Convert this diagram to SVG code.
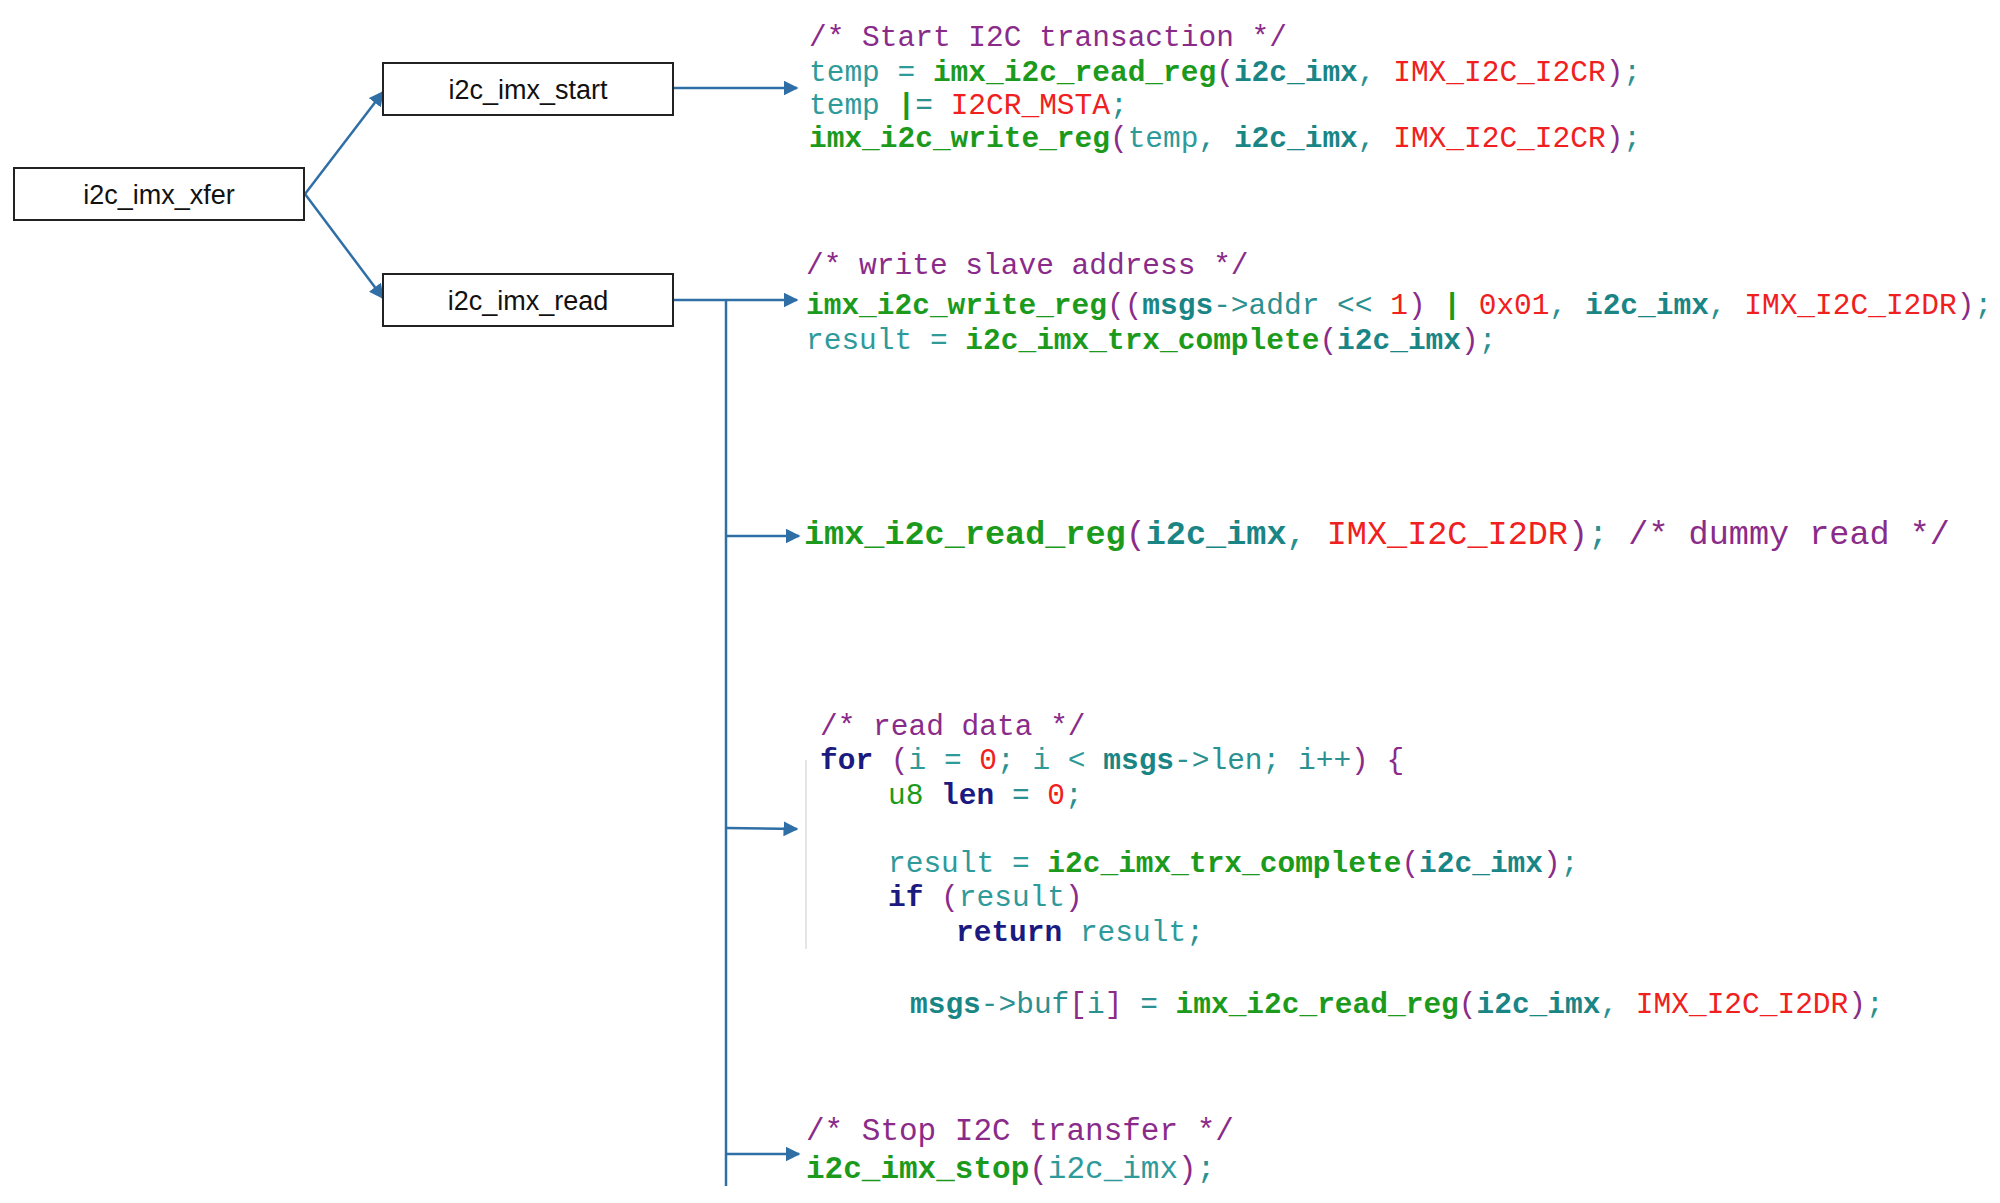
<svg xmlns="http://www.w3.org/2000/svg" width="2000" height="1203" viewBox="0 0 2000 1203">
<style>
.box{fill:#fff;stroke:#222;stroke-width:2}
.lbl{font-family:"Liberation Sans",Arial,sans-serif;font-size:27px;fill:#111;text-anchor:middle}
.c{font-family:"Liberation Mono","DejaVu Sans Mono",monospace;font-size:29.5px;fill:#2a9090;white-space:pre}
.cm{fill:#8a2b8a}
.v{fill:#2e9a9a}
.b{fill:#1a8585;font-weight:bold}
.f{fill:#1c9a1c;font-weight:bold}
.k{fill:#1a1a80;font-weight:bold}
.r{fill:#f02020}
.p{fill:#8a2b8a}
.con{stroke:#2f6fa6;stroke-width:2.5;fill:none}
</style>
<defs>
<marker id="ah" viewBox="0 0 10 10" refX="9" refY="5" markerWidth="6" markerHeight="6" orient="auto"><path d="M0,0 L10,5 L0,10 z" fill="#2f6fa6"/></marker>
</defs>
<g id="connectors">
<path class="con" d="M305,194 L383,92" marker-end="url(#ah)"/>
<path class="con" d="M305,194 L383,298" marker-end="url(#ah)"/>
<path class="con" d="M673,88 L797,88" marker-end="url(#ah)"/>
<path class="con" d="M673,300 L797,300" marker-end="url(#ah)"/>
<path class="con" d="M726,300 L726,1186"/>
<path class="con" d="M726,536 L799,536" marker-end="url(#ah)"/>
<path class="con" d="M726,828 L797,829" marker-end="url(#ah)"/>
<path class="con" d="M726,1154 L799,1154" marker-end="url(#ah)"/>
</g>
<g id="xfer"><rect class="box" x="14" y="168" width="290" height="52"/><text class="lbl" x="159" y="204">i2c_imx_xfer</text></g>
<g id="start"><rect class="box" x="383" y="63" width="290" height="52"/><text class="lbl" x="528" y="99">i2c_imx_start</text></g>
<g id="read"><rect class="box" x="383" y="274" width="290" height="52"/><text class="lbl" x="528" y="310">i2c_imx_read</text></g>
<g id="code1">
<text class="c" x="809" y="46"><tspan class="cm">/* Start I2C transaction */</tspan></text>
<text class="c" x="809" y="81"><tspan class="v">temp = </tspan><tspan class="f">imx_i2c_read_reg</tspan><tspan class="p">(</tspan><tspan class="b">i2c_imx</tspan>, <tspan class="r">IMX_I2C_I2CR</tspan><tspan class="p">)</tspan>;</text>
<text class="c" x="809" y="114"><tspan class="v">temp </tspan><tspan class="f">|</tspan>= <tspan class="r">I2CR_MSTA</tspan>;</text>
<text class="c" x="809" y="147"><tspan class="f">imx_i2c_write_reg</tspan><tspan class="p">(</tspan><tspan class="v">temp</tspan>, <tspan class="b">i2c_imx</tspan>, <tspan class="r">IMX_I2C_I2CR</tspan><tspan class="p">)</tspan>;</text>
</g>
<g id="code2">
<text class="c" x="806" y="274"><tspan class="cm">/* write slave address */</tspan></text>
<text class="c" x="806" y="314"><tspan class="f">imx_i2c_write_reg</tspan><tspan class="p">((</tspan><tspan class="b">msgs</tspan>-&gt;addr &lt;&lt; <tspan class="r">1</tspan><tspan class="p">)</tspan> <tspan class="f">|</tspan> <tspan class="r">0x01</tspan>, <tspan class="b">i2c_imx</tspan>, <tspan class="r">IMX_I2C_I2DR</tspan><tspan class="p">)</tspan>;</text>
<text class="c" x="806" y="349"><tspan class="v">result = </tspan><tspan class="f">i2c_imx_trx_complete</tspan><tspan class="p">(</tspan><tspan class="b">i2c_imx</tspan><tspan class="p">)</tspan>;</text>
</g>
<g id="code3">
<text class="c" x="804" y="544" style="font-size:33.5px"><tspan class="f">imx_i2c_read_reg</tspan><tspan class="p">(</tspan><tspan class="b">i2c_imx</tspan>, <tspan class="r">IMX_I2C_I2DR</tspan><tspan class="p">)</tspan>; <tspan class="cm">/* dummy read */</tspan></text>
</g>
<g id="code4">
<line x1="806" y1="760" x2="806" y2="949" stroke="#ddd" stroke-width="1.5"/>
<text class="c" x="820" y="735"><tspan class="cm">/* read data */</tspan></text>
<text class="c" x="820" y="769"><tspan class="k">for</tspan> <tspan class="p">(</tspan><tspan class="v">i = </tspan><tspan class="r">0</tspan>; <tspan class="v">i &lt; </tspan><tspan class="b">msgs</tspan>-&gt;len; i++<tspan class="p">) {</tspan></text>
<text class="c" x="888" y="804"><tspan class="f" style="font-weight:normal">u8</tspan> <tspan class="k">len</tspan> = <tspan class="r">0</tspan>;</text>
<text class="c" x="888" y="872"><tspan class="v">result = </tspan><tspan class="f">i2c_imx_trx_complete</tspan><tspan class="p">(</tspan><tspan class="b">i2c_imx</tspan><tspan class="p">)</tspan>;</text>
<text class="c" x="888" y="906"><tspan class="k">if</tspan> <tspan class="p">(</tspan><tspan class="v">result</tspan><tspan class="p">)</tspan></text>
<text class="c" x="956" y="941"><tspan class="k">return</tspan> <tspan class="v">result</tspan>;</text>
<text class="c" x="910" y="1013"><tspan class="b">msgs</tspan>-&gt;buf<tspan class="p">[</tspan>i<tspan class="p">]</tspan> = <tspan class="f">imx_i2c_read_reg</tspan><tspan class="p">(</tspan><tspan class="b">i2c_imx</tspan>, <tspan class="r">IMX_I2C_I2DR</tspan><tspan class="p">)</tspan>;</text>
</g>
<g id="code5">
<text class="c" x="806" y="1140" style="font-size:31px"><tspan class="cm">/* Stop I2C transfer */</tspan></text>
<text class="c" x="806" y="1178" style="font-size:31px"><tspan class="f">i2c_imx_stop</tspan><tspan class="p">(</tspan><tspan class="v">i2c_imx</tspan><tspan class="p">)</tspan>;</text>
</g>
</svg>
